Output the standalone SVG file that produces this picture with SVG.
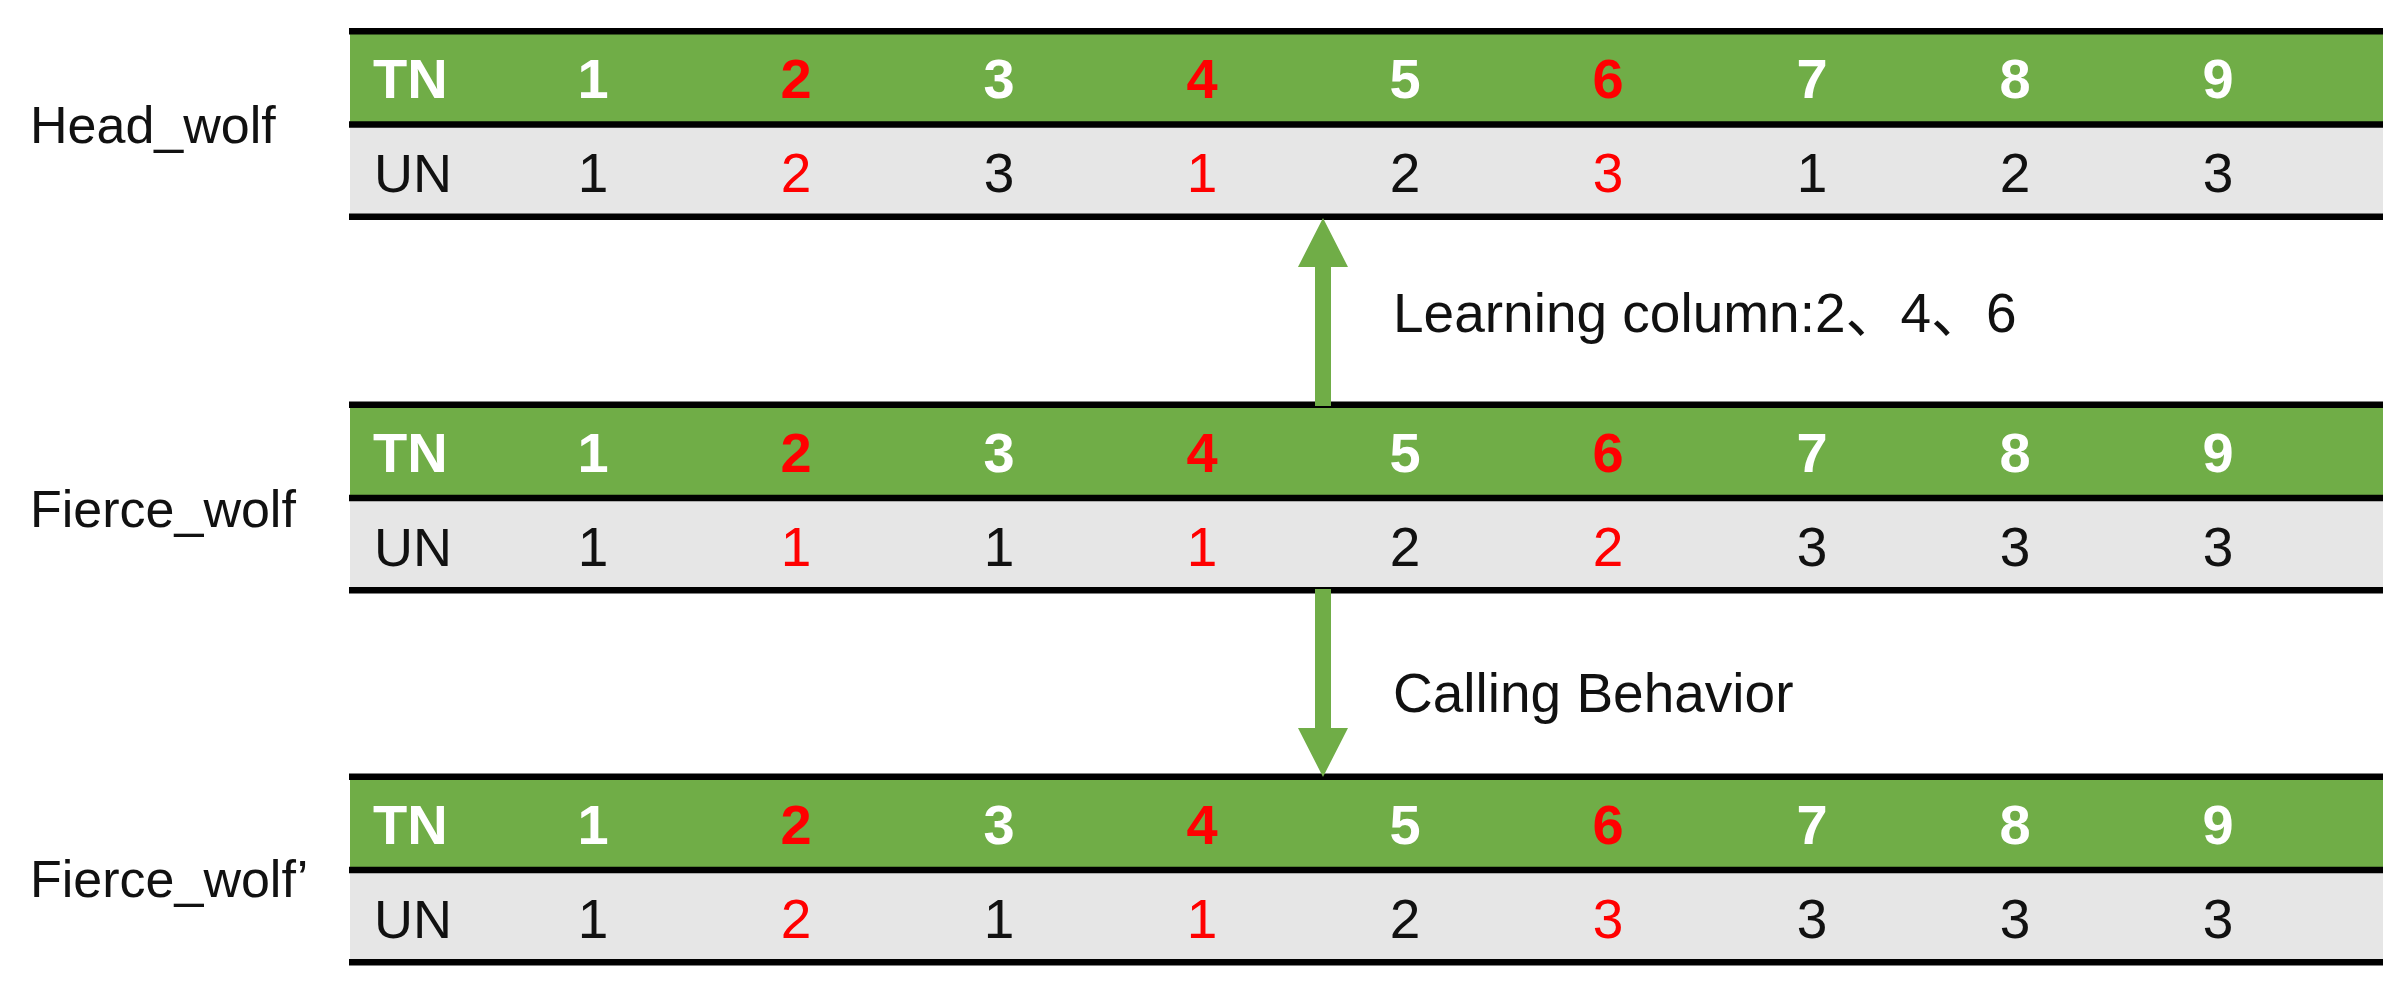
<svg xmlns="http://www.w3.org/2000/svg" width="2408" height="992" viewBox="0 0 2408 992">
<style>
text{font-family:"Liberation Sans",Arial,"Noto Sans CJK SC",sans-serif}
.green{fill:#70AD47}
.gray{fill:#E6E6E6}
.rule{stroke:#000;stroke-width:6.5}
.tn{font-size:56px;font-weight:bold;fill:#fff;text-anchor:middle}
.tnh{font-size:56px;font-weight:bold;fill:#fff}
.un{font-size:55px;fill:#111;text-anchor:middle}
.unh{font-size:54px;fill:#111}
.r{fill:#FF0000}
.lbl{font-size:52px;fill:#111}
.note{font-size:55px;fill:#111}
.arrow{fill:#70AD47}
</style>

<g id="head_wolf">
  <text class="lbl" x="30" y="143">Head_wolf</text>
  <rect class="green" x="350" y="31" width="2033" height="93.5"/>
  <rect class="gray" x="350" y="124.5" width="2033" height="92"/>
  <line class="rule" x1="349" y1="31.2" x2="2383" y2="31.2"/>
  <line class="rule" x1="349" y1="124.5" x2="2383" y2="124.5"/>
  <line class="rule" x1="349" y1="216.7" x2="2383" y2="216.7"/>
  <text class="tnh" x="373" y="98">TN</text>
  <text class="tn" x="593" y="98">1</text>
  <text class="tn r" x="796" y="98">2</text>
  <text class="tn" x="999" y="98">3</text>
  <text class="tn r" x="1202" y="98">4</text>
  <text class="tn" x="1405" y="98">5</text>
  <text class="tn r" x="1608" y="98">6</text>
  <text class="tn" x="1812" y="98">7</text>
  <text class="tn" x="2015" y="98">8</text>
  <text class="tn" x="2218" y="98">9</text>
  <text class="unh" x="374" y="192">UN</text>
  <text class="un" x="593" y="192">1</text>
  <text class="un r" x="796" y="192">2</text>
  <text class="un" x="999" y="192">3</text>
  <text class="un r" x="1202" y="192">1</text>
  <text class="un" x="1405" y="192">2</text>
  <text class="un r" x="1608" y="192">3</text>
  <text class="un" x="1812" y="192">1</text>
  <text class="un" x="2015" y="192">2</text>
  <text class="un" x="2218" y="192">3</text>
</g>

<g id="fierce_wolf">
  <text class="lbl" x="30" y="527">Fierce_wolf</text>
  <rect class="green" x="350" y="404.5" width="2033" height="93.5"/>
  <rect class="gray" x="350" y="498" width="2033" height="92"/>
  <line class="rule" x1="349" y1="404.7" x2="2383" y2="404.7"/>
  <line class="rule" x1="349" y1="498" x2="2383" y2="498"/>
  <line class="rule" x1="349" y1="590.2" x2="2383" y2="590.2"/>
  <text class="tnh" x="373" y="471.5">TN</text>
  <text class="tn" x="593" y="471.5">1</text>
  <text class="tn r" x="796" y="471.5">2</text>
  <text class="tn" x="999" y="471.5">3</text>
  <text class="tn r" x="1202" y="471.5">4</text>
  <text class="tn" x="1405" y="471.5">5</text>
  <text class="tn r" x="1608" y="471.5">6</text>
  <text class="tn" x="1812" y="471.5">7</text>
  <text class="tn" x="2015" y="471.5">8</text>
  <text class="tn" x="2218" y="471.5">9</text>
  <text class="unh" x="374" y="565.5">UN</text>
  <text class="un" x="593" y="565.5">1</text>
  <text class="un r" x="796" y="565.5">1</text>
  <text class="un" x="999" y="565.5">1</text>
  <text class="un r" x="1202" y="565.5">1</text>
  <text class="un" x="1405" y="565.5">2</text>
  <text class="un r" x="1608" y="565.5">2</text>
  <text class="un" x="1812" y="565.5">3</text>
  <text class="un" x="2015" y="565.5">3</text>
  <text class="un" x="2218" y="565.5">3</text>
</g>

<g id="fierce_wolf_prime">
  <text class="lbl" x="30" y="897">Fierce_wolf’</text>
  <rect class="green" x="350" y="776.5" width="2033" height="93.5"/>
  <rect class="gray" x="350" y="870" width="2033" height="92"/>
  <line class="rule" x1="349" y1="776.7" x2="2383" y2="776.7"/>
  <line class="rule" x1="349" y1="870" x2="2383" y2="870"/>
  <line class="rule" x1="349" y1="962.2" x2="2383" y2="962.2"/>
  <text class="tnh" x="373" y="843.5">TN</text>
  <text class="tn" x="593" y="843.5">1</text>
  <text class="tn r" x="796" y="843.5">2</text>
  <text class="tn" x="999" y="843.5">3</text>
  <text class="tn r" x="1202" y="843.5">4</text>
  <text class="tn" x="1405" y="843.5">5</text>
  <text class="tn r" x="1608" y="843.5">6</text>
  <text class="tn" x="1812" y="843.5">7</text>
  <text class="tn" x="2015" y="843.5">8</text>
  <text class="tn" x="2218" y="843.5">9</text>
  <text class="unh" x="374" y="937.5">UN</text>
  <text class="un" x="593" y="937.5">1</text>
  <text class="un r" x="796" y="937.5">2</text>
  <text class="un" x="999" y="937.5">1</text>
  <text class="un r" x="1202" y="937.5">1</text>
  <text class="un" x="1405" y="937.5">2</text>
  <text class="un r" x="1608" y="937.5">3</text>
  <text class="un" x="1812" y="937.5">3</text>
  <text class="un" x="2015" y="937.5">3</text>
  <text class="un" x="2218" y="937.5">3</text>
</g>

<g id="connectors">
  <path class="arrow" d="M1323,218 L1348,267 L1331,267 L1331,406 L1315,406 L1315,267 L1298,267 Z"/>
  <path class="arrow" d="M1315,589 L1331,589 L1331,728 L1348,728 L1323,777 L1298,728 L1315,728 Z"/>
  <text class="note" x="1393" y="332">Learning column:2、4、6</text>
  <text class="note" x="1393" y="712">Calling Behavior</text>
</g>
</svg>
